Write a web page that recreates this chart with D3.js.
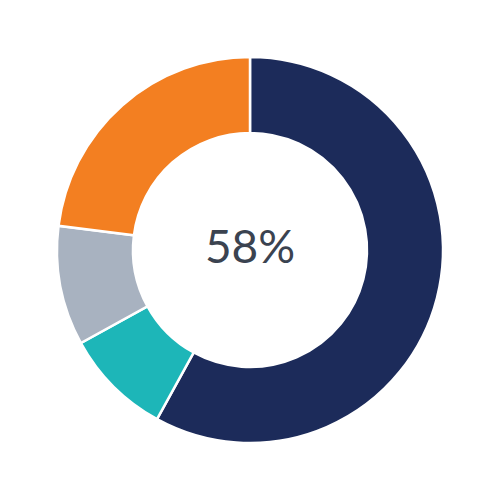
<!DOCTYPE html>
<html>
<head>
<meta charset="utf-8">
<script src="https://cdn.jsdelivr.net/npm/d3@7"></script>
<style>
  html, body { margin: 0; padding: 0; background: #ffffff; }
  #chart { width: 500px; height: 500px; }
</style>
</head>
<body>
<div id="chart"></div>
<script>
const segmentNames = ["Navy", "Teal", "Gray", "Orange"];
const segmentValues = [58, 9, 10, 23];
const segmentColors = ["#1c2b5a", "#1db6b8", "#a8b2c0", "#f37f21"];
const centerLabel = "58%";

const width = 500;
const height = 500;
const outerRadius = 193;
const innerRadius = 117;

const svg = d3.select("#chart")
  .append("svg")
  .attr("width", width)
  .attr("height", height);

const chart = svg.append("g")
  .attr("transform", `translate(${width / 2},${height / 2})`);

const pie = d3.pie()
  .sort(null)
  .value((d) => d.value);

const arc = d3.arc()
  .innerRadius(innerRadius)
  .outerRadius(outerRadius);

const data = segmentNames.map((name, i) => ({ name, value: segmentValues[i], color: segmentColors[i] }));

chart.selectAll("path.slice")
  .data(pie(data))
  .enter()
  .append("path")
  .attr("class", "slice")
  .attr("d", arc)
  .attr("fill", (d) => d.data.color)
  .attr("stroke", "#ffffff")
  .attr("stroke-width", 2.5);

chart.append("text")
  .attr("x", 0)
  .attr("y", 13)
  .attr("text-anchor", "middle")
  .attr("fill", "#3b4350")
  .attr("font-family", "Lato, 'Open Sans', sans-serif")
  .attr("font-size", 46)
  .text(centerLabel);
</script>
</body>
</html>
